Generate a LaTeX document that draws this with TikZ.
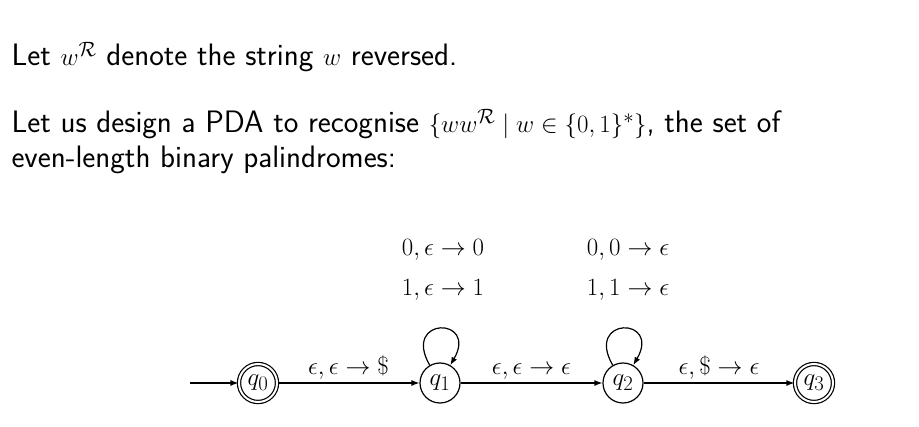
\documentclass[tikz,border=0pt]{standalone}
\usepackage{amssymb}
\usetikzlibrary{arrows.meta,automata}
\begin{document}
\begin{tikzpicture}[x=1pt,y=-1pt,font=\sffamily\fontsize{31}{37}\selectfont,
  st/.style={circle,draw,line width=1.2pt,minimum size=40pt,inner sep=0pt},
  acc/.style={st,double,double distance=2pt,minimum size=38pt},
  ed/.style={-{Latex[length=8pt]},line width=1.2pt},
  lab/.style={inner sep=3pt}]
\useasboundingbox (0,0) rectangle (919,427);
\node[anchor=base west] (t1) at (8,66) {Let $w^{\mathcal R}$ denote the string $w$ reversed.};
\node[anchor=base west] (t2) at (8,133) {Let us design a PDA to recognise $\{ww^{\mathcal R}\mid w\in\{0,1\}^*\}$, the set of};
\node[anchor=base west] (t3) at (8,168) {even-length binary palindromes:};
\node[acc] (q0) at (258,383) {$q_0$};
\node[st] (q1) at (440,383) {$q_1$};
\node[st] (q2) at (623,383) {$q_2$};
\node[acc] (q3) at (814,383) {$q_3$};
\coordinate (s) at (190,383);
\draw[ed] (s) -- (q0);
\draw[ed] (q0) -- node[lab,above]{$\epsilon,\epsilon\to\$$} (q1);
\draw[ed] (q1) -- node[lab,above]{$\epsilon,\epsilon\to\epsilon$} (q2);
\draw[ed] (q2) -- node[lab,above]{$\epsilon,\$\to\epsilon$} (q3);
\draw[ed] (q1) edge[out=120,in=60,looseness=7] (q1);
\draw[ed] (q2) edge[out=120,in=60,looseness=7] (q2);
\node[anchor=base] (l1) at (443,256) {$0,\epsilon\to0$};
\node[anchor=base] (l2) at (443,296) {$1,\epsilon\to1$};
\node[anchor=base] (l3) at (628,256) {$0,0\to\epsilon$};
\node[anchor=base] (l4) at (628,296) {$1,1\to\epsilon$};
\end{tikzpicture}
\end{document}
